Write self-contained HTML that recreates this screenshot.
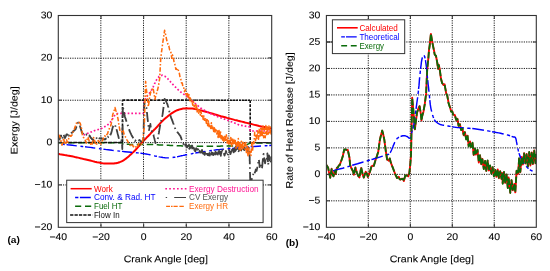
<!DOCTYPE html>
<html lang="en"><head><meta charset="utf-8"><title>Exergy and heat release vs crank angle</title>
<style>html,body{margin:0;padding:0;background:#fff}svg{display:block}</style></head>
<body>
<svg width="550" height="271" viewBox="0 0 550 271">
<defs>
<clipPath id="cl"><rect x="58.3" y="15.5" width="213.39999999999998" height="211.8"/></clipPath>
<clipPath id="cr"><rect x="326.4" y="15.5" width="209.89999999999998" height="211.8"/></clipPath>
</defs>
<rect width="550" height="271" fill="#fff"/>
<g id="left">
<line x1="100.83" y1="15.5" x2="100.83" y2="227.3" stroke="#111" stroke-width="1" stroke-dasharray="1.15 1.2"/>
<line x1="143.51" y1="15.5" x2="143.51" y2="227.3" stroke="#111" stroke-width="1" stroke-dasharray="1.15 1.2"/>
<line x1="186.19" y1="15.5" x2="186.19" y2="227.3" stroke="#111" stroke-width="1" stroke-dasharray="1.15 1.2"/>
<line x1="228.87" y1="15.5" x2="228.87" y2="227.3" stroke="#111" stroke-width="1" stroke-dasharray="1.15 1.2"/>
<line x1="58.3" y1="184.94" x2="271.7" y2="184.94" stroke="#111" stroke-width="1" stroke-dasharray="1.15 1.2"/>
<line x1="58.3" y1="142.58" x2="271.7" y2="142.58" stroke="#111" stroke-width="1" stroke-dasharray="1.15 1.2"/>
<line x1="58.3" y1="100.22" x2="271.7" y2="100.22" stroke="#111" stroke-width="1" stroke-dasharray="1.15 1.2"/>
<line x1="58.3" y1="58.21" x2="271.7" y2="58.21" stroke="#111" stroke-width="1" stroke-dasharray="1.15 1.2"/>
<g clip-path="url(#cl)" fill="none" stroke-linejoin="round">
<path d="M58.0,154.0 58.9,154.1 60.0,154.3 61.4,154.5 63.0,154.7 64.5,155.0 66.0,155.2 67.4,155.5 68.8,155.7 70.2,156.0 71.7,156.3 73.3,156.6 75.0,157.0 76.9,157.4 79.0,157.9 81.2,158.4 83.5,159.0 85.8,159.5 88.0,160.0 90.2,160.5 92.5,161.1 94.8,161.7 97.0,162.2 99.1,162.6 101.0,163.0 102.6,163.3 104.1,163.4 105.4,163.5 106.6,163.6 107.8,163.6 109.0,163.6 110.2,163.6 111.5,163.6 112.7,163.5 113.9,163.5 115.0,163.3 116.0,163.2 117.0,163.0 117.9,162.8 118.7,162.5 119.5,162.2 120.3,161.9 121.0,161.6 121.7,161.3 122.2,161.0 122.8,160.8 123.3,160.5 123.8,160.1 124.3,159.8 124.8,159.4 125.3,159.1 125.8,158.7 126.3,158.3 126.9,157.9 127.4,157.4 128.0,156.9 128.6,156.4 129.2,155.9 129.8,155.3 130.4,154.8 131.0,154.2 131.6,153.7 132.2,153.1 132.8,152.6 133.5,152.0 134.1,151.4 134.7,150.8 135.3,150.2 135.9,149.5 136.5,148.8 137.2,148.1 137.8,147.4 138.4,146.7 139.0,146.0 139.6,145.3 140.2,144.5 140.9,143.8 141.5,143.1 142.1,142.4 142.7,141.7 143.3,141.1 143.9,140.4 144.6,139.8 145.2,139.1 145.8,138.5 146.4,137.9 147.0,137.2 147.7,136.6 148.3,136.0 148.9,135.3 149.5,134.7 150.1,134.1 150.7,133.4 151.3,132.7 152.0,132.1 152.6,131.4 153.2,130.8 153.8,130.2 154.4,129.5 155.1,128.9 155.7,128.3 156.3,127.6 156.9,127.0 157.5,126.3 158.1,125.7 158.7,125.0 159.3,124.3 159.9,123.6 160.5,123.0 161.1,122.4 161.6,121.8 162.2,121.3 162.7,120.7 163.3,120.1 164.0,119.5 164.7,118.8 165.6,118.1 166.4,117.4 167.3,116.7 168.1,116.0 169.0,115.3 169.8,114.7 170.7,114.0 171.5,113.4 172.4,112.8 173.2,112.3 174.0,111.8 174.8,111.4 175.6,111.0 176.3,110.6 177.1,110.3 177.9,110.0 178.7,109.7 179.6,109.4 180.4,109.2 181.4,109.0 182.3,108.8 183.2,108.6 184.0,108.5 184.8,108.4 185.5,108.4 186.2,108.3 187.0,108.3 187.7,108.4 188.6,108.4 189.5,108.4 190.5,108.5 191.5,108.5 192.5,108.6 193.7,108.8 195.0,109.0 196.4,109.3 198.0,109.7 199.7,110.1 201.4,110.5 203.2,111.0 205.0,111.5 206.9,112.0 208.9,112.6 210.9,113.2 212.9,113.8 215.0,114.4 217.0,115.0 219.0,115.6 221.0,116.2 223.1,116.7 225.1,117.3 227.1,117.9 229.0,118.4 230.9,118.9 232.8,119.4 234.6,119.9 236.4,120.3 238.2,120.8 240.0,121.2 241.7,121.6 243.4,122.0 245.0,122.5 246.6,122.9 248.3,123.3 250.0,123.7 251.8,124.1 253.6,124.6 255.4,125.1 257.3,125.5 259.2,126.0 261.0,126.4 263.0,126.8 265.1,127.3 267.2,127.8 269.1,128.2 270.8,128.5 272.0,128.8" stroke="#ff0000" stroke-width="2"/>
<path d="M58.0,143.8 59.3,143.9 61.0,144.1 63.1,144.3 65.3,144.5 67.7,144.8 70.0,145.0 72.3,145.3 74.8,145.6 77.3,145.9 79.9,146.2 82.5,146.5 85.0,146.8 87.6,147.1 90.2,147.4 92.8,147.8 95.4,148.1 97.8,148.4 100.0,148.7 101.9,148.9 103.5,149.2 105.0,149.4 106.5,149.6 108.1,149.8 110.0,150.0 112.2,150.3 114.5,150.5 117.0,150.8 119.5,151.1 122.2,151.4 125.0,151.7 128.0,152.0 131.2,152.3 134.5,152.6 137.8,152.9 140.9,153.3 143.6,153.6 146.0,154.0 148.1,154.4 150.0,154.8 151.7,155.2 153.4,155.6 155.0,156.0 156.6,156.3 158.0,156.6 159.3,156.9 160.6,157.1 161.8,157.3 163.0,157.5 164.1,157.6 165.1,157.8 166.1,157.9 167.0,157.9 168.0,157.9 169.0,157.9 170.1,157.8 171.4,157.7 172.6,157.5 173.9,157.3 175.0,157.2 176.0,157.0 176.8,156.9 177.5,156.7 178.1,156.6 178.7,156.4 179.3,156.3 180.0,156.1 180.8,155.9 181.6,155.7 182.4,155.6 183.3,155.4 184.1,155.2 185.0,155.0 185.8,154.8 186.6,154.7 187.4,154.5 188.2,154.3 189.2,154.1 190.4,153.9 191.8,153.7 193.3,153.4 195.0,153.1 196.8,152.8 198.7,152.5 200.7,152.2 202.8,151.9 205.0,151.5 207.4,151.1 209.8,150.8 212.2,150.4 214.5,150.1 216.7,149.8 218.8,149.6 221.0,149.4 223.2,149.2 225.6,149.0 228.4,148.7 231.5,148.4 235.0,148.1 238.7,147.8 242.5,147.4 246.3,147.1 250.0,146.8 253.9,146.5 258.1,146.2 262.4,145.9 266.3,145.7 269.6,145.5 272.0,145.3" stroke="#0000ff" stroke-width="1.4" stroke-dasharray="10.3 3.7 2.8 1.8" stroke-dashoffset="10"/>
<path d="M58.0,142.7 59.0,142.7 60.0,142.7 61.0,142.7 62.0,142.7 63.0,142.7 64.0,142.7 65.0,142.7 66.0,142.7 67.1,142.7 68.1,142.7 69.1,142.7 70.1,142.7 71.1,142.7 72.1,142.7 73.1,142.7 74.1,142.7 75.1,142.7 76.1,142.7 77.1,142.7 78.1,142.7 79.1,142.7 80.1,142.7 81.1,142.7 82.2,142.7 83.2,142.7 84.2,142.7 85.2,142.7 86.2,142.7 87.2,142.7 88.2,142.7 89.2,142.7 90.2,142.7 91.2,142.7 92.2,142.7 93.2,142.7 94.2,142.7 95.2,142.7 96.2,142.7 97.2,142.7 98.2,142.7 99.3,142.7 100.3,142.7 101.3,142.7 102.3,142.7 103.3,142.7 104.3,142.7 105.3,142.7 106.3,142.7 107.3,142.7 108.3,142.7 109.3,142.7 110.3,142.7 111.3,142.7 112.3,142.7 113.3,142.7 114.4,142.7 115.4,142.7 116.4,142.7 117.4,142.7 118.4,142.7 119.4,142.7 120.4,142.7 121.4,142.7 122.4,142.7 122.8,144.3 123.8,144.3 124.8,144.3 125.8,144.3 126.8,144.3 127.8,144.3 128.8,144.3 129.9,144.4 130.9,144.4 131.9,144.4 132.9,144.4 133.9,144.4 134.9,144.4 135.9,144.4 136.9,144.4 137.9,144.4 138.9,144.4 139.9,144.4 140.9,144.4 141.9,144.4 142.9,144.4 144.0,144.5 145.0,144.5 146.0,144.5 147.0,144.5 148.0,144.5 149.0,144.5 150.0,144.5 151.0,144.5 152.0,144.6 153.0,144.6 154.0,144.7 155.0,144.7 156.0,144.8 157.0,144.8 158.0,144.8 159.0,144.9 160.0,144.9 161.0,145.0 162.0,145.0 163.0,145.1 164.0,145.1 165.0,145.1 166.0,145.2 167.0,145.2 168.0,145.3 169.0,145.3 170.0,145.4 171.0,145.4 172.0,145.4 173.0,145.5 174.0,145.5 175.0,145.6 176.0,145.6 177.0,145.7 178.0,145.7 179.0,145.7 180.0,145.8 181.0,145.8 182.0,145.9 183.0,145.9 184.0,146.0 185.0,146.0 186.0,146.0 187.0,146.0 188.0,146.1 189.0,146.1 190.0,146.1 191.0,146.1 192.0,146.1 193.0,146.2 194.0,146.2 195.0,146.2 196.0,146.2 197.0,146.2 198.0,146.3 199.0,146.3 200.0,146.3 201.0,146.3 202.0,146.3 203.0,146.3 204.0,146.3 205.0,146.3 206.0,146.3 207.0,146.2 208.0,146.2 209.0,146.2 210.0,146.2 211.0,146.2 212.0,146.2 213.0,146.2 214.0,146.2 215.0,146.2 216.0,146.2 217.0,146.2 218.0,146.2 219.0,146.2 220.0,146.2 221.0,146.1 222.0,146.1 223.0,146.1 224.0,146.1 225.0,146.1 226.0,146.1 227.0,146.1 228.0,146.1 229.0,146.1 230.0,146.1 231.0,146.1 232.0,146.1 233.0,146.1 234.0,146.0 235.0,146.0 236.0,146.0 237.0,146.0 238.0,146.0 239.0,146.0 240.0,146.0 241.0,145.8 242.0,145.7 243.0,145.5 244.0,145.3 245.0,145.2 246.0,145.0 247.0,144.6 248.0,144.1 249.0,143.6 250.0,143.2 251.5,142.9 252.5,142.9 253.6,142.9 254.6,142.9 255.6,142.9 256.6,142.9 257.6,142.9 258.7,142.9 259.7,142.9 260.7,142.9 261.8,142.9 262.8,142.9 263.8,142.9 264.8,142.9 265.9,142.9 266.9,142.9 267.9,142.9 268.9,142.9 269.9,142.9 271.0,142.9 272.0,142.9" stroke="#0a6b0a" stroke-width="1.5" stroke-dasharray="6.5 3.5"/>
<path d="M58.3,142.6H122.5" stroke="#111" stroke-width="1.5" stroke-dasharray="3.9 1.1"/>
<path d="M122.5,100.2H187" stroke="#111" stroke-width="1.7" stroke-dasharray="2.7 1.2"/>
<path d="M187,100.2H218" stroke="#111" stroke-width="1.25" stroke-dasharray="5 0.8"/>
<path d="M218,100.2H250.2" stroke="#111" stroke-width="1.5" stroke-dasharray="2 1"/>
<path d="M250.2,142.6H272" stroke="#222" stroke-width="1.2" stroke-dasharray="6 0.6"/>
<path d="M122.5,142.6V100.2M250.2,100.2V142.6" stroke="#111" stroke-width="1.6" stroke-dasharray="2.8 1.3"/>
<path d="M83.5,135.0 84.6,134.6 85.7,134.1 86.8,133.7 87.9,133.3 89.0,132.9 90.1,132.5 91.1,132.0 92.2,131.6 93.3,131.2 94.3,130.7 95.4,130.3 96.5,130.0 97.5,129.7 98.6,129.4 99.7,129.0 100.8,128.7 101.9,128.3 102.8,127.8 103.7,127.3 104.6,126.8 105.5,126.3 106.4,125.8 107.3,125.1 108.1,124.5 109.0,123.8 109.7,123.0 110.3,122.2 110.9,121.4 111.6,120.6 112.2,119.6 112.7,118.7 113.3,117.7 113.8,116.8 114.4,115.8 115.3,115.1 116.1,114.3 117.0,113.6 118.0,113.5 119.0,113.4 120.0,113.3 121.0,113.3 122.0,113.3 123.0,113.3 124.0,113.3 125.0,113.3 126.1,113.3 127.1,113.3 128.1,113.3 129.1,113.3 130.1,113.3 131.2,113.3 132.2,113.3 133.2,113.3 134.2,113.3 135.2,113.3 136.3,113.3 137.3,113.3 138.3,113.3 139.3,113.3 140.3,113.3 141.4,113.3 142.4,113.3 143.4,113.3 143.5,112.3 143.5,111.2 143.6,110.2 143.6,109.2 143.7,108.2 143.7,107.2 143.8,106.1 143.8,105.1 143.8,104.1 143.9,103.0 143.9,102.0 144.0,101.0 144.6,100.1 145.2,99.2 145.8,98.3 146.4,97.4 147.0,96.5 147.6,95.6 148.2,94.7 148.9,93.8 149.5,93.0 150.1,92.1 150.8,91.2 151.4,90.3 152.0,89.4 152.4,88.5 152.8,87.5 153.3,86.6 153.7,85.7 154.1,84.7 154.5,83.8 155.0,82.9 155.4,81.9 155.8,81.0 156.4,80.1 157.1,79.2 157.7,78.3 158.4,77.4 159.0,76.5 160.1,76.1 161.2,75.6 162.3,75.2 163.7,75.8 165.0,76.3 165.8,77.0 166.7,77.7 167.5,78.4 168.2,79.2 169.0,80.1 169.7,80.9 170.4,81.7 171.1,82.5 171.9,83.4 172.6,84.2 173.3,84.9 174.1,85.7 174.8,86.4 175.5,87.1 176.2,87.8 176.9,88.5 177.7,89.3 178.4,90.0 179.2,90.7 180.0,91.3 180.7,92.0 181.5,92.6 182.3,93.3 183.3,93.9 184.2,94.5 185.2,95.2 186.2,95.8 187.0,96.5 187.7,97.1 188.5,97.8 189.2,98.4 190.0,99.1 190.7,99.7 191.5,100.4 192.2,101.0 193.0,101.7 193.8,102.4 194.7,103.1 195.5,103.8 196.3,104.5 197.2,105.1 198.0,105.8 198.8,106.5 199.7,107.2 200.5,107.9 201.4,108.4 202.2,109.0 203.1,109.5 204.0,110.0 204.8,110.6 205.7,111.1 206.7,111.6 207.7,112.1 208.8,112.7 209.8,113.2 210.8,113.7 211.8,114.1 212.8,114.5 213.7,114.9 214.7,115.3 215.7,115.8 216.7,116.2 217.6,116.6 218.6,117.0 219.6,117.4 220.7,117.8 221.7,118.1 222.8,118.5 223.8,118.9 224.8,119.3 225.9,119.7 226.9,120.0 228.0,120.4 229.0,120.8 230.0,121.2 231.0,121.6 232.1,122.0 233.1,122.4 234.1,122.8 235.1,123.2 236.2,123.7 237.2,124.1 238.3,124.6 239.3,125.0 240.3,125.2 241.3,125.4 242.4,125.6 243.4,125.8 244.4,126.0 245.4,126.2 246.5,126.4 247.5,126.5 248.6,126.7 249.6,126.9 249.8,127.9 249.9,128.9 250.0,130.0 250.2,131.0 251.3,131.0 252.4,131.0 253.5,131.0 254.6,131.0 255.6,131.0 256.7,131.0 257.8,131.0 258.9,131.0 260.0,131.0 261.0,131.0 262.0,131.0 263.0,131.0 264.0,131.0 265.0,131.0 266.0,131.0 267.0,131.0 268.0,131.0 269.0,131.0 270.0,131.0 271.0,131.0 272.0,131.0" stroke="#ff1493" stroke-width="1.7" stroke-dasharray="1.7 2.0"/>
<path d="M58.0,136.0 58.2,136.4 58.4,136.9 58.6,137.3 58.8,137.8 58.9,138.2 59.1,138.6 59.3,139.1 59.5,139.5 59.7,139.1 59.8,138.6 60.0,138.2 60.2,137.7 60.3,137.3 60.5,136.8 60.7,136.4 60.8,135.9 61.0,135.5 61.1,135.9 61.3,136.4 61.4,136.8 61.6,137.3 61.7,137.7 61.9,138.2 62.0,138.6 62.2,139.1 62.3,139.5 62.4,139.0 62.5,138.6 62.6,138.1 62.7,137.7 62.8,137.2 63.0,136.8 63.1,136.3 63.2,135.9 63.3,135.4 63.4,135.0 63.5,134.5 63.7,134.9 63.9,135.4 64.1,135.8 64.2,136.2 64.4,136.7 64.6,137.1 64.8,137.6 65.0,138.0 65.2,137.6 65.4,137.1 65.6,136.7 65.8,136.2 65.9,135.8 66.1,135.4 66.3,134.9 66.5,134.4 66.9,135.3 67.2,134.4 67.6,134.7 68.0,136.5 68.3,135.2 68.6,135.6 68.9,135.3 69.3,135.4 69.7,134.0 70.1,133.6 70.5,134.1 70.8,133.7 71.2,133.1 71.6,133.0 72.0,132.4 72.4,132.5 72.8,131.5 73.1,131.6 73.5,131.5 73.9,130.6 74.3,130.6 74.6,130.1 75.0,129.9 75.4,129.2 75.6,129.2 75.7,128.8 75.9,128.3 76.0,127.9 76.2,127.5 76.3,127.0 76.5,126.6 76.7,126.2 76.8,125.8 77.0,125.3 77.1,124.9 77.3,124.9 77.5,124.1 77.8,123.7 78.0,122.7 78.3,122.8 78.5,122.7 78.7,123.3 78.9,123.7 79.1,124.2 79.3,124.7 79.5,125.1 79.7,125.2 79.9,125.8 80.0,126.3 80.2,126.7 80.3,127.2 80.4,127.6 80.6,128.1 80.7,128.5 80.8,129.0 81.0,129.5 81.1,129.9 81.3,130.4 81.4,130.8 81.5,131.3 81.7,131.7 81.8,132.5 82.1,132.6 82.4,133.4 82.7,133.2 82.9,133.5 83.2,134.1 83.5,134.9 83.8,135.0 84.2,134.7 84.7,134.5 85.1,134.5 85.6,134.2 86.0,134.2 86.5,134.7 87.0,134.8 87.5,134.8 87.9,134.2 88.4,134.7 88.9,134.7 89.2,135.6 89.4,135.4 89.7,136.4 90.0,136.0 90.2,136.6 90.5,137.5 90.7,137.5 91.0,138.2 91.3,138.2 91.6,138.2 91.9,139.1 92.2,139.2 92.6,139.6 92.9,139.5 93.2,139.9 93.5,141.0 93.8,140.7 94.2,140.4 94.5,139.5 94.8,138.8 95.2,139.2 95.7,139.1 96.1,138.8 96.5,138.1 97.0,138.4 97.5,139.1 98.1,138.7 98.6,139.6 99.0,139.5 99.4,138.5 99.8,138.1 100.2,138.7 100.6,138.3 101.1,138.2 101.6,138.4 102.0,139.0 102.5,138.7 103.0,138.6 103.5,139.2 103.9,138.9 104.3,139.3 104.8,139.6 105.2,139.1 105.7,139.0 106.0,138.5 106.4,139.0 106.7,137.9 107.0,138.5 107.4,137.9 107.7,137.8 108.0,137.4 108.3,136.4 108.7,136.1 109.0,136.5 109.3,135.5 109.6,135.7 109.9,134.8 110.3,134.6 110.6,134.6 110.9,133.8 111.0,133.6 111.2,133.2 111.3,132.7 111.4,132.2 111.5,131.8 111.7,131.3 111.8,130.9 111.9,130.4 112.0,129.9 112.2,129.5 112.3,129.0 112.4,128.6 112.5,128.1 112.7,127.7 112.8,127.2 112.9,126.8 113.0,126.3 113.1,125.8 113.3,125.4 113.4,125.0 113.5,124.8 113.9,125.1 114.4,125.0 114.8,124.8 115.1,125.8 115.4,126.0 115.7,127.0 116.0,126.7 116.1,127.5 116.2,127.9 116.3,128.4 116.5,128.8 116.6,129.3 116.7,129.8 116.8,130.2 116.9,130.7 117.0,131.2 117.2,131.6 117.3,132.1 117.4,132.5 117.5,133.0 117.6,133.4 117.7,133.9 117.8,134.3 118.0,134.8 118.1,135.2 118.2,135.6 118.3,136.1 118.4,136.5 118.5,136.9 118.6,137.4 118.7,137.8 118.8,138.2 119.0,138.7 119.1,139.1 119.2,139.6 119.3,139.9 119.7,140.1 120.2,140.8 120.6,140.8 121.0,140.5 121.3,141.5 121.7,141.7 122.0,142.0 122.0,142.5 122.0,142.9 122.1,143.4 122.1,143.9 122.1,144.3 122.1,144.8 122.1,145.3 122.2,145.7 122.2,146.2 122.2,146.7 122.2,147.1 122.2,147.6 122.3,148.1 122.3,148.5 122.3,149.0 122.3,148.5 122.3,148.1 122.3,147.6 122.3,147.2 122.3,146.7 122.3,146.3 122.3,145.8 122.3,145.4 122.3,144.9 122.4,144.5 122.4,144.0 122.4,143.6 122.4,143.1 122.4,142.7 122.4,142.2 122.4,141.8 122.4,141.3 122.4,140.9 122.4,140.4 122.4,139.9 122.4,139.5 122.4,139.0 122.4,138.6 122.4,138.1 122.4,137.7 122.4,137.2 122.4,136.8 122.4,136.3 122.5,135.9 122.5,135.4 122.5,135.0 122.5,134.5 122.5,134.1 122.5,133.6 122.5,133.2 122.5,132.7 122.5,132.3 122.5,131.8 122.5,131.3 122.5,130.9 122.5,130.4 122.5,130.0 122.5,129.5 122.5,129.1 122.5,128.6 122.5,128.2 122.5,127.7 122.6,127.3 122.6,126.8 122.6,126.4 122.6,125.9 122.6,125.5 122.6,125.0 122.6,124.6 122.6,124.1 122.6,123.7 122.6,123.2 122.6,122.7 122.6,122.3 122.6,121.8 122.6,121.4 122.6,120.9 122.6,120.5 122.6,120.0 122.6,119.6 122.6,119.1 122.7,118.7 122.7,118.2 122.7,117.8 122.7,117.3 122.7,116.9 122.7,116.4 122.7,116.0 122.7,115.5 122.7,115.1 122.7,114.6 122.7,114.1 122.7,113.7 122.7,113.2 122.7,112.8 122.7,112.3 122.7,111.9 122.7,111.4 122.7,111.0 122.7,110.5 122.8,110.1 122.8,109.6 122.8,109.2 122.8,108.7 122.8,108.3 122.8,107.8 122.8,107.4 122.8,106.9 122.8,106.5 122.8,106.0 122.9,106.4 123.0,106.9 123.0,107.3 123.1,107.8 123.2,108.2 123.3,108.7 123.3,109.1 123.4,109.6 123.5,110.0 123.6,110.5 123.7,110.9 123.8,111.4 123.9,111.9 124.0,112.3 124.1,112.8 124.2,113.3 124.3,113.7 124.4,114.2 124.5,114.7 124.6,115.1 124.7,115.6 124.8,116.1 124.9,116.5 125.0,117.0 125.1,117.4 125.3,117.9 125.4,118.3 125.6,118.7 125.7,119.1 125.9,119.6 126.0,120.0 126.1,120.4 126.3,120.9 126.4,121.3 126.6,121.7 126.7,122.1 126.9,122.6 127.0,123.0 127.1,123.4 127.3,123.9 127.4,124.3 127.6,124.8 127.7,125.2 127.9,125.7 128.0,126.1 128.2,126.6 128.3,127.0 128.4,127.4 128.6,127.9 128.7,128.3 128.9,128.8 129.0,129.2 129.2,129.7 129.3,130.1 129.5,130.6 129.6,131.0 129.8,131.4 130.0,131.8 130.2,132.2 130.4,132.7 130.6,133.1 130.8,133.5 131.0,133.9 131.2,134.3 131.4,134.8 131.6,135.2 131.8,135.6 132.0,136.0 132.2,136.4 132.5,136.8 132.8,137.2 133.0,137.7 133.2,138.1 133.5,138.5 133.8,138.9 134.0,139.3 134.2,139.8 134.5,140.2 134.8,140.6 135.0,141.0 135.4,140.6 135.8,140.2 136.1,139.9 136.5,139.5 136.9,139.9 137.2,140.2 137.6,140.6 138.0,141.0 138.4,140.8 138.8,140.5 139.1,140.2 139.5,140.0 139.9,140.4 140.2,140.8 140.6,141.1 141.0,141.5 141.5,141.4 142.0,141.3 142.4,141.2 142.9,141.1 143.4,141.0 143.4,140.5 143.4,140.1 143.4,139.6 143.4,139.2 143.4,138.7 143.5,138.3 143.5,137.8 143.5,137.4 143.5,136.9 143.5,136.5 143.5,136.0 143.5,135.6 143.5,135.1 143.5,134.7 143.5,134.2 143.6,133.8 143.6,133.3 143.6,132.9 143.6,132.4 143.6,132.0 143.6,131.5 143.6,131.0 143.6,130.6 143.6,130.1 143.6,129.7 143.6,129.2 143.7,128.8 143.7,128.3 143.7,127.9 143.7,127.4 143.7,127.0 143.7,126.5 143.7,126.1 143.7,125.6 143.7,125.2 143.7,124.7 143.8,124.3 143.8,123.8 143.8,123.4 143.8,122.9 143.8,122.5 143.8,122.0 143.8,121.5 143.8,121.1 143.8,120.6 143.8,120.2 143.8,119.7 143.9,119.3 143.9,118.8 143.9,118.4 143.9,117.9 143.9,117.5 143.9,117.0 143.9,116.6 143.9,116.1 143.9,115.7 143.9,115.2 144.0,114.8 144.0,114.3 144.0,113.9 144.0,113.4 144.0,113.0 144.0,112.5 144.0,112.0 144.0,111.6 144.0,111.1 144.0,110.7 144.0,110.2 144.1,109.8 144.1,109.3 144.1,108.9 144.1,108.4 144.1,108.0 144.1,107.5 144.1,107.1 144.1,106.6 144.1,106.2 144.1,105.7 144.2,105.3 144.2,104.8 144.2,104.4 144.2,103.9 144.2,103.5 144.2,103.0 144.4,103.4 144.6,103.8 144.8,104.2 145.0,104.7 145.2,105.1 145.3,105.5 145.5,105.9 145.7,106.3 145.9,106.8 146.1,107.2 146.3,107.6 146.5,108.0 146.5,108.5 146.6,108.9 146.6,109.4 146.7,109.8 146.7,110.3 146.8,110.7 146.8,111.2 146.9,111.7 146.9,112.1 147.0,112.6 147.0,113.0 147.1,113.5 147.1,113.9 147.2,114.4 147.2,114.9 147.2,115.3 147.3,115.8 147.3,116.2 147.4,116.7 147.4,117.1 147.5,117.6 147.5,118.1 147.6,118.5 147.6,119.0 147.7,119.4 147.7,119.9 147.8,120.3 147.8,120.8 147.9,121.3 147.9,121.7 148.0,122.2 148.0,122.6 148.1,123.1 148.2,123.6 148.2,124.0 148.3,124.5 148.3,124.9 148.4,125.4 148.5,125.9 148.5,126.3 148.6,126.8 148.6,127.2 148.7,127.7 148.8,128.2 148.8,128.6 148.9,129.1 148.9,129.5 149.0,130.0 149.1,129.5 149.2,129.1 149.3,128.6 149.4,128.2 149.5,127.7 149.6,127.2 149.8,126.8 149.9,126.3 150.0,125.8 150.1,125.4 150.2,124.9 150.3,124.5 150.4,124.0 150.4,124.5 150.5,124.9 150.5,125.4 150.6,125.8 150.6,126.3 150.7,126.8 150.7,127.2 150.8,127.7 150.8,128.2 150.9,128.6 150.9,129.1 151.0,129.5 151.0,130.0 151.2,130.4 151.5,130.8 151.8,131.1 152.0,131.5 152.2,131.9 152.5,132.2 152.8,132.6 153.0,133.0 153.1,133.5 153.2,133.9 153.3,134.4 153.5,134.8 153.6,135.3 153.7,135.7 153.8,136.2 153.9,136.6 154.0,137.1 154.1,137.5 154.2,138.0 154.4,138.5 154.5,138.9 154.6,139.4 154.7,139.8 154.8,140.3 154.9,140.7 155.0,141.2 155.2,141.6 155.3,142.1 155.4,142.5 155.5,143.0 155.7,142.6 155.9,142.2 156.1,141.8 156.3,141.3 156.5,140.9 156.8,140.5 157.0,140.1 157.2,139.7 157.4,139.2 157.6,138.8 157.8,138.4 158.0,138.0 158.1,137.6 158.1,137.1 158.2,136.7 158.3,136.2 158.4,135.8 158.4,135.3 158.5,134.9 158.6,134.4 158.7,134.0 158.7,133.6 158.8,133.1 158.9,132.7 159.0,132.2 159.0,131.8 159.1,131.3 159.2,130.9 159.3,130.4 159.3,130.0 159.4,129.6 159.5,129.1 159.6,128.7 159.6,128.2 159.7,127.8 159.8,127.3 159.9,126.9 159.9,126.4 160.0,126.0 160.1,125.6 160.2,125.1 160.3,124.7 160.4,124.2 160.5,123.8 160.6,123.3 160.7,122.9 160.8,122.4 160.9,122.0 161.0,121.5 161.1,121.1 161.2,120.6 161.3,120.2 161.4,119.8 161.5,119.3 161.6,118.9 161.7,118.4 161.8,118.0 161.9,117.5 162.0,117.1 162.1,116.6 162.2,116.2 162.3,115.7 162.4,115.3 162.5,114.8 162.6,114.4 162.7,113.9 162.7,113.5 162.8,113.0 162.8,112.6 162.9,112.1 163.0,111.7 163.0,111.2 163.1,110.8 163.1,110.3 163.2,109.8 163.2,109.4 163.3,108.9 163.4,108.5 163.4,108.0 163.5,107.6 163.5,107.1 163.6,106.7 163.7,106.2 163.7,105.7 163.8,105.3 163.8,104.8 163.9,104.4 164.0,103.9 164.0,103.5 164.1,103.0 164.1,102.5 164.2,102.1 164.2,101.6 164.3,101.2 164.4,100.7 164.4,100.3 164.5,99.8 164.5,99.4 164.6,98.9 164.9,99.3 165.2,99.7 165.4,100.2 165.7,100.6 166.0,101.0 166.2,101.4 166.4,101.9 166.5,102.3 166.7,102.7 166.9,103.2 167.1,103.6 167.3,104.0 167.4,104.4 167.6,104.9 167.8,105.3 167.9,105.8 168.0,106.2 168.1,106.7 168.3,107.1 168.4,107.6 168.5,108.0 168.6,108.5 168.7,108.9 168.8,109.4 168.9,109.8 169.0,110.3 169.2,110.7 169.3,111.2 169.4,111.6 169.5,112.1 169.6,112.5 169.7,113.0 169.8,113.4 169.9,113.9 170.1,114.3 170.2,114.8 170.3,115.2 170.4,115.7 170.6,116.1 170.7,116.6 170.9,117.0 171.1,117.4 171.2,117.8 171.4,118.3 171.5,118.7 171.7,119.1 171.9,119.6 172.0,120.0 172.2,120.4 172.4,120.8 172.5,121.3 172.7,121.7 172.8,122.1 173.0,122.6 173.2,123.0 173.3,123.4 173.5,123.9 173.7,124.3 173.8,124.7 174.0,125.1 174.1,125.6 174.3,126.0 174.5,126.5 174.6,126.9 174.8,127.3 174.9,127.8 175.1,128.2 175.2,128.7 175.3,129.2 175.5,129.6 175.8,130.0 176.1,130.4 176.4,130.7 176.7,131.1 176.9,131.5 177.2,131.9 177.5,132.2 177.8,132.6 178.1,133.0 178.4,133.4 178.7,133.7 179.0,134.1 179.2,134.5 179.5,134.9 179.8,135.2 180.1,135.7 180.4,135.9 180.6,136.4 180.7,136.9 180.9,137.3 181.1,137.8 181.2,138.2 181.4,138.7 181.6,139.1 181.7,139.5 181.9,140.0 182.1,140.4 182.3,140.9 182.4,141.3 182.6,141.7 182.8,142.2 182.9,142.6 183.1,143.1 183.3,143.5 183.4,144.0 183.6,144.2 184.1,142.8 184.5,142.4 185.0,143.5 185.2,143.6 185.4,145.9 185.6,144.4 185.8,144.2 186.0,144.5 186.5,145.4 187.0,147.4 187.5,146.8 188.0,145.1 188.2,145.5 188.5,146.2 188.8,147.1 189.0,144.7 189.2,148.6 189.5,148.8 189.8,147.5 190.0,147.3 190.5,147.9 191.0,147.5 191.5,146.5 192.0,145.5 192.3,148.3 192.6,149.3 192.9,148.7 193.2,147.5 193.5,148.5 193.8,147.8 194.1,151.2 194.4,148.8 194.7,149.5 195.0,151.1 195.4,151.2 195.8,149.7 196.2,148.1 196.6,148.9 197.0,150.3 197.3,148.4 197.6,149.3 197.9,149.1 198.2,149.9 198.5,150.1 198.8,151.0 199.1,152.8 199.4,153.1 199.7,150.8 200.0,151.4 200.4,151.5 200.8,152.7 201.2,152.6 201.6,152.3 202.0,149.8 202.2,150.2 202.5,153.8 202.8,152.5 203.0,153.6 203.2,151.6 203.5,153.8 203.8,152.8 204.0,153.9 204.3,153.4 204.7,154.9 205.0,152.4 205.3,153.7 205.7,151.5 206.0,152.4 206.4,153.8 206.8,151.4 207.2,152.5 207.6,155.1 207.9,154.8 208.3,155.3 208.7,154.4 209.1,153.7 209.5,153.0 209.8,155.7 210.0,152.0 210.2,155.1 210.5,154.7 210.8,154.4 211.0,153.2 211.3,153.1 211.6,152.3 211.9,154.6 212.1,154.0 212.4,154.1 212.7,152.8 213.0,153.1 213.3,155.2 213.6,152.4 213.9,154.5 214.1,152.9 214.4,151.2 214.7,152.7 215.0,153.3 215.2,154.5 215.5,151.6 215.8,152.7 216.0,153.4 216.2,153.8 216.5,153.1 216.8,153.9 217.0,153.2 217.2,154.9 217.5,156.3 217.8,152.0 218.0,154.2 218.2,152.9 218.5,151.6 218.8,151.2 219.0,153.6 219.2,150.1 219.5,152.6 219.8,152.8 220.0,155.0 220.2,152.1 220.5,151.7 220.8,155.8 221.0,153.7 221.2,153.7 221.4,151.9 221.7,151.9 221.9,151.5 222.1,153.1 222.3,150.2 222.6,150.0 222.8,150.5 223.0,150.5 223.1,151.0 223.3,151.4 223.4,151.9 223.5,152.3 223.7,152.8 223.8,153.2 224.0,153.7 224.1,154.1 224.2,154.6 224.4,155.0 224.5,155.5 224.7,155.1 224.8,154.6 224.9,154.2 225.1,153.7 225.2,153.2 225.4,152.8 225.6,152.3 225.7,151.9 225.8,151.4 226.0,151.0 226.1,151.5 226.3,151.9 226.4,152.4 226.5,152.8 226.7,153.3 226.8,153.7 227.0,154.2 227.1,154.6 227.2,155.1 227.4,155.5 227.5,156.0 227.6,155.5 227.7,155.1 227.8,154.6 228.0,154.2 228.1,153.7 228.2,153.2 228.3,152.8 228.4,152.3 228.5,151.8 228.7,151.4 228.8,150.9 228.9,150.5 229.0,150.0 229.2,150.4 229.3,150.9 229.5,151.3 229.7,151.8 229.8,152.2 230.0,152.7 230.2,153.1 230.3,153.6 230.5,154.0 230.6,153.5 230.8,153.1 230.9,152.6 231.0,152.2 231.2,151.7 231.3,151.3 231.5,150.8 231.6,150.4 231.7,149.9 231.9,149.5 232.0,148.5 232.3,147.3 232.6,147.9 232.9,150.5 233.1,148.3 233.4,152.0 233.7,152.3 234.0,149.2 234.2,151.7 234.5,149.7 234.8,149.2 235.0,151.4 235.2,147.3 235.5,148.5 235.8,150.5 236.0,146.1 236.3,148.8 236.7,147.5 237.0,147.7 237.3,148.6 237.7,150.7 238.0,149.6 238.3,150.6 238.6,151.2 238.9,150.9 239.1,148.7 239.4,147.1 239.7,148.5 240.0,145.6 240.4,147.1 240.8,147.2 241.2,150.5 241.6,149.0 242.0,148.5 242.4,147.7 242.8,148.5 243.2,148.2 243.6,149.5 244.0,147.5 244.4,150.1 244.8,146.0 245.2,148.9 245.6,148.3 246.0,148.1 246.5,148.8 247.0,151.1 247.5,148.1 248.0,150.6 248.2,149.1 248.5,148.8 248.8,147.7 249.0,148.2 249.2,152.0 249.5,151.0 249.5,151.5 249.5,151.9 249.5,152.4 249.5,152.8 249.6,153.3 249.6,153.7 249.6,154.2 249.6,154.6 249.6,155.1 249.6,155.5 249.6,156.0 249.6,156.4 249.6,156.9 249.7,157.3 249.7,157.8 249.7,158.2 249.7,158.7 249.7,159.1 249.7,159.6 249.7,160.0 249.7,160.5 249.7,160.9 249.8,161.4 249.8,161.8 249.8,162.3 249.8,162.7 249.8,163.2 249.8,163.6 249.8,164.1 249.8,164.5 249.8,165.0 249.9,165.4 249.9,165.9 249.9,166.3 249.9,166.8 249.9,167.2 249.9,167.7 249.9,168.1 249.9,168.6 249.9,169.0 249.9,169.5 250.0,170.0 250.0,170.4 250.0,170.9 250.0,171.3 250.0,171.8 250.0,172.2 250.0,172.7 250.0,173.1 250.0,173.6 250.1,174.0 250.1,174.5 250.1,174.9 250.1,175.4 250.1,175.8 250.1,176.3 250.1,176.7 250.1,177.2 250.1,177.6 250.2,178.1 250.2,178.5 250.2,179.0 250.2,179.4 250.2,179.9 250.2,180.3 250.2,180.8 250.2,181.2 250.2,181.7 250.3,182.1 250.3,182.6 250.3,183.0 250.3,183.5 250.3,183.9 250.3,184.4 250.3,184.8 250.3,185.3 250.3,185.7 250.4,186.2 250.4,186.6 250.4,187.1 250.4,187.5" stroke="#404040" stroke-width="1.8" stroke-dasharray="10 3.2 1.5 3.2"/>
<path d="M250.4,187.5V188" stroke="#404040" stroke-width="1.6"/>
<path d="M250.4,188.0 250.5,187.5 250.5,187.1 250.6,186.6 250.6,186.1 250.7,185.7 250.7,185.2 250.8,184.7 250.8,184.3 250.9,183.8 250.9,183.3 251.0,182.9 251.0,182.4 251.1,181.9 251.1,181.5 251.2,181.0 251.3,180.6 251.5,180.1 251.6,179.7 251.8,179.2 251.9,178.8 252.0,178.3 252.2,177.9 252.3,177.4 252.5,177.0 252.6,176.5 252.7,176.0 252.9,175.6 253.0,175.1 253.1,174.7 253.2,174.2 253.4,173.8 253.5,173.3 253.8,173.7 254.0,173.8 254.3,174.5 254.4,174.0 254.6,173.6 254.7,173.1 254.8,172.7 255.0,172.2 255.1,171.8 255.3,171.3 255.4,170.9 255.5,170.4 255.7,170.0 255.8,169.4 256.1,169.7 256.3,170.5 256.6,170.8 256.7,170.3 256.8,169.9 256.9,169.4 257.0,168.9 257.1,168.5 257.2,168.0 257.3,167.5 257.4,167.1 257.4,166.6 257.5,166.1 257.6,165.6 257.7,165.2 257.8,164.7 257.9,164.2 258.0,163.8 258.1,163.3 258.2,162.8 258.3,162.3 258.4,161.8 258.5,161.4 258.6,160.9 258.7,160.4 258.8,159.9 258.9,159.4 258.9,159.9 259.0,160.3 259.0,160.8 259.1,161.2 259.1,161.7 259.2,162.1 259.2,162.6 259.3,163.0 259.3,163.5 259.4,163.9 259.4,164.4 259.5,164.8 259.5,165.3 259.6,165.7 259.6,166.2 259.7,166.6 259.7,167.1 259.8,166.6 259.9,166.2 260.1,165.7 260.2,165.3 260.3,164.8 260.4,164.4 260.6,163.9 260.7,163.5 260.8,163.0 260.9,163.5 261.0,163.9 261.1,164.4 261.2,164.9 261.3,165.4 261.4,165.8 261.5,166.3 261.6,166.8 261.7,167.3 261.8,167.8 261.9,168.2 262.0,168.7 262.0,168.2 262.1,167.8 262.1,167.3 262.2,166.9 262.2,166.4 262.3,166.0 262.3,165.5 262.3,165.0 262.4,164.6 262.4,164.1 262.5,163.7 262.5,163.2 262.5,162.7 262.6,162.3 262.6,161.8 262.7,161.4 262.7,160.9 262.8,160.5 262.8,160.0 262.9,159.5 262.9,159.1 263.0,158.6 263.0,158.2 263.1,157.7 263.2,157.2 263.2,156.8 263.3,156.3 263.4,155.8 263.4,155.4 263.5,154.9 263.5,154.5 263.6,154.0 263.7,154.5 263.7,154.9 263.8,155.4 263.8,155.9 263.9,156.3 263.9,156.8 264.0,157.2 264.1,157.7 264.1,158.2 264.2,158.6 264.2,159.1 264.3,159.6 264.3,160.0 264.4,160.5 264.5,161.0 264.6,161.4 264.8,161.9 264.9,162.4 265.0,162.8 265.1,163.3 265.2,162.9 265.2,162.4 265.3,162.0 265.3,161.5 265.4,161.1 265.4,160.6 265.5,160.2 265.6,159.7 265.6,159.2 265.7,158.8 265.7,158.3 265.8,157.9 265.8,157.4 265.9,157.0 266.2,157.7 266.4,157.9 266.7,158.6 266.8,158.1 266.8,157.7 266.9,157.2 267.0,156.7 267.0,156.3 267.1,155.8 267.1,155.4 267.2,154.9 267.3,154.4 267.3,154.0 267.4,153.5 267.4,154.0 267.5,154.4 267.5,154.9 267.5,155.3 267.6,155.8 267.6,156.2 267.6,156.7 267.7,157.1 267.7,157.6 267.7,158.0 267.8,158.5 267.8,158.9 267.8,159.4 267.8,159.8 267.9,160.3 267.9,160.7 267.9,161.2 268.0,161.6 268.0,162.1 268.0,162.5 268.1,163.0 268.1,163.4 268.1,163.9 268.2,164.3 268.2,164.8 268.2,164.3 268.3,163.9 268.3,163.4 268.4,162.9 268.4,162.5 268.4,162.0 268.5,161.5 268.5,161.1 268.6,160.6 268.6,160.2 268.6,159.7 268.7,159.2 268.7,158.8 268.8,158.3 268.8,157.8 268.8,157.4 268.9,156.9 268.9,156.4 269.0,156.0 269.0,155.5 269.1,155.9 269.2,156.4 269.2,156.8 269.3,157.3 269.4,157.8 269.5,158.2 269.6,158.7 269.6,159.1 269.7,159.6 269.8,160.0 269.9,160.5 270.0,160.9 270.1,161.4 270.2,161.9 270.3,162.4 270.4,162.8 270.5,163.3 270.6,162.9 270.6,162.4 270.7,162.0 270.7,161.5 270.8,161.1 270.8,160.6 270.9,160.2 271.0,159.7 271.0,159.2 271.1,158.8 271.1,158.3 271.2,157.9 271.2,157.4 271.3,157.0 271.4,157.4 271.5,157.9 271.5,158.3 271.6,158.8 271.7,159.2 271.8,159.7 271.8,160.1 271.9,160.6 272.0,161.0" stroke="#404040" stroke-width="1.8" stroke-dasharray="10 3.2 1.5 3.2"/>
<path d="M58.3,135.1 59.0,135.0 60.0,137.1 60.5,138.3 61.3,143.0 62.1,145.1 62.8,142.6 63.6,138.1 64.5,142.9 65.0,142.8 65.6,144.1 66.6,139.9 67.3,142.2 67.7,142.3 68.0,141.8 68.9,137.5 69.5,137.3 70.3,135.6 71.0,136.3 72.0,135.0 72.5,134.3 73.2,131.4 74.1,130.3 74.7,127.9 75.6,125.6 76.4,123.1 77.0,123.4 77.7,122.6 78.4,122.9 79.2,122.4 80.1,123.1 80.7,125.0 81.8,129.4 82.4,135.0 82.9,136.4 83.9,138.1 84.4,139.4 85.4,140.5 86.3,142.9 86.7,140.9 87.7,137.1 88.2,137.8 89.2,141.1 89.7,141.6 90.7,144.1 91.2,143.9 91.8,145.1 92.7,141.4 93.7,137.5 94.2,138.6 95.2,142.9 95.6,143.5 96.3,145.1 97.1,142.8 98.2,140.5 98.6,140.6 99.7,142.2 100.3,144.7 100.9,144.2 101.6,141.7 102.7,140.2 103.1,138.6 104.2,136.2 104.6,135.7 105.4,136.3 106.1,135.4 106.5,135.7 106.8,134.6 107.6,133.7 108.3,130.9 108.9,129.9 109.8,127.1 110.6,126.3 111.0,124.8 111.3,123.4 112.1,118.3 112.7,114.8 113.6,111.9 114.3,110.0 115.0,107.6 115.8,110.5 116.6,112.3 117.2,114.8 118.1,119.3 118.9,125.0 119.5,128.1 120.0,130.9 120.3,130.8 121.0,132.0 121.7,131.8 122.7,129.9 123.3,130.9 124.0,133.9 124.6,134.8 125.5,137.1 126.2,137.9 127.0,140.1 127.9,141.5 128.5,143.0 129.3,143.6 130.2,145.5 130.7,144.7 131.5,145.3 131.9,144.6 132.2,145.6 133.0,145.8 133.4,146.8 133.7,146.3 134.5,146.8 135.2,146.0 136.0,147.1 137.0,147.9 137.5,146.9 138.5,143.7 139.0,143.8 139.7,142.9 140.2,143.3 141.4,144.2 142.0,143.3 142.6,141.5 143.4,135.4 144.3,127.3 144.9,104.7 145.6,81.4 146.4,89.6 147.2,95.9 147.9,103.9 148.3,106.6 148.7,104.3 149.4,99.2 150.4,93.4 150.9,91.7 151.7,91.2 152.4,88.7 153.0,87.9 153.9,92.7 155.0,99.4 155.4,97.1 156.1,95.2 156.9,91.7 157.6,89.8 158.4,86.2 159.1,82.2 159.7,78.2 160.7,58.7 161.4,52.8 162.1,48.0 162.7,43.0 163.6,37.4 164.6,30.3 165.1,33.0 165.9,35.3 166.6,39.8 167.6,43.0 168.1,45.4 168.8,45.9 169.6,49.7 170.3,50.4 171.0,52.8 171.8,58.3 172.5,54.9 173.3,57.5 174.1,62.4 174.8,64.2 175.9,69.3 176.3,68.6 177.1,70.8 177.8,69.9 178.4,70.6 179.3,73.2 180.2,78.2 180.8,79.2 181.5,82.9 182.3,83.1 183.0,87.5 183.8,88.0 184.5,91.6 185.3,89.7 186.0,94.5 186.8,92.8 187.2,95.9 187.5,93.1 188.3,97.7 189.0,94.7 189.8,100.7 190.4,98.1 191.2,101.5 192.0,100.4 192.7,105.1 193.5,101.6 194.2,106.7 195.3,105.0 195.7,110.0 196.5,105.1 197.2,111.9 198.0,108.4 198.7,113.3 199.5,110.6 200.4,115.2 201.0,111.5 201.7,116.3 202.5,114.4 203.2,119.5 203.9,116.1 204.7,120.3 205.3,118.0 206.2,123.2 206.9,118.2 207.7,125.6 208.4,120.8 209.2,127.6 210.2,124.7 210.7,128.4 211.4,122.8 212.2,129.5 212.9,126.2 213.7,131.4 214.4,126.8 215.1,132.1 215.9,129.8 216.9,134.0 217.4,130.7 218.1,137.4 218.9,129.5 219.6,138.2 220.4,131.0 221.1,138.7 221.9,134.5 222.6,140.1 223.5,136.0 224.1,141.9 224.9,136.4 225.6,141.6 226.4,134.9 227.1,142.9 227.8,137.5 228.6,144.0 229.3,138.8 230.1,144.0 230.8,137.5 231.6,146.2 232.3,138.3 233.1,144.6 233.8,139.5 234.6,144.9 235.3,140.6 236.1,148.2 236.9,142.8 237.6,147.1 238.3,138.6 239.0,150.5 239.8,141.3 240.5,150.2 241.3,141.2 242.0,149.8 242.8,140.9 243.5,147.9 244.3,141.6 245.0,149.3 245.8,142.6 246.5,153.9 247.3,146.3 248.0,155.8 248.8,148.1 249.3,155.3 250.3,151.5 251.0,155.5 251.7,142.5 252.5,151.1 253.3,141.0 254.0,143.4 254.7,132.3 255.5,140.8 256.2,134.3 256.8,138.4 257.7,130.9 258.5,139.3 259.2,129.4 260.0,137.2 260.7,128.6 261.5,135.2 261.9,128.5 262.2,136.6 263.0,126.0 263.7,137.7 264.4,128.4 265.2,137.8 265.9,125.6 266.7,135.9 267.4,126.9 268.2,134.1 268.9,126.0 269.7,134.4 270.4,127.0 271.2,134.2 271.7,130.4" stroke="#ff6a0d" stroke-width="1.55" stroke-dasharray="4.5 1.8 1.6 1.8"/>
</g>
<rect x="66.7" y="180.2" width="196.4" height="42.4" fill="#fff" stroke="#333" stroke-width="1"/>
<path d="M101.0,227.3v-3.5M101.0,15.5v3.5" stroke="#333" stroke-width="1"/>
<path d="M143.7,227.3v-3.5M143.7,15.5v3.5" stroke="#333" stroke-width="1"/>
<path d="M186.3,227.3v-3.5M186.3,15.5v3.5" stroke="#333" stroke-width="1"/>
<path d="M229.0,227.3v-3.5M229.0,15.5v3.5" stroke="#333" stroke-width="1"/>
<path d="M58.3,184.9h3.5M271.7,184.9h-3.5" stroke="#333" stroke-width="1"/>
<path d="M58.3,142.6h3.5M271.7,142.6h-3.5" stroke="#333" stroke-width="1"/>
<path d="M58.3,100.2h3.5M271.7,100.2h-3.5" stroke="#333" stroke-width="1"/>
<path d="M58.3,57.9h3.5M271.7,57.9h-3.5" stroke="#333" stroke-width="1"/>
<rect x="58.3" y="15.5" width="213.39999999999998" height="211.8" fill="none" stroke="#333" stroke-width="1.1"/>
<path d="M70.6,188.7H91.7" stroke="#ff0000" stroke-width="1.5"/>
<path d="M75.1,197.5H78.4M79.9,197.5H90.8" stroke="#0000ff" stroke-width="1.4"/>
<path d="M75.1,206.3H81.2M85,206.3H91.2" stroke="#0a6b0a" stroke-width="1.4"/>
<path d="M70.1,215H92.3" stroke="#111" stroke-width="1.3" stroke-dasharray="3.3 1.1"/>
<text x="94" y="191.6" font-size="8.6" fill="#ff0000" font-family="Liberation Sans, Arial, Helvetica, sans-serif" textLength="18.7" lengthAdjust="spacingAndGlyphs">Work</text>
<text x="94" y="200.4" font-size="8.6" fill="#0000ff" font-family="Liberation Sans, Arial, Helvetica, sans-serif" textLength="61.6" lengthAdjust="spacingAndGlyphs">Conv. &amp; Rad. HT</text>
<text x="94" y="209.20000000000002" font-size="8.6" fill="#0a6b0a" font-family="Liberation Sans, Arial, Helvetica, sans-serif" textLength="28.4" lengthAdjust="spacingAndGlyphs">Fuel HT</text>
<text x="94" y="217.9" font-size="8.6" fill="#111" font-family="Liberation Sans, Arial, Helvetica, sans-serif" textLength="25.6" lengthAdjust="spacingAndGlyphs">Flow In</text>
<path d="M165.3,188.7H187" stroke="#ff1493" stroke-width="1.6" stroke-dasharray="1.7 2.2"/>
<path d="M165.7,197.5h1.4M174.2,197.5H186" stroke="#404040" stroke-width="1.2"/>
<path d="M166.1,206.3H170M171,206.3H172.6M173.5,206.3H177.7M179.4,206.3H183.8" stroke="#ff6a0d" stroke-width="1.3"/>
<text x="189" y="191.6" font-size="8.6" fill="#ff1493" font-family="Liberation Sans, Arial, Helvetica, sans-serif" textLength="69.6" lengthAdjust="spacingAndGlyphs">Exergy Destruction</text>
<text x="189" y="200.4" font-size="8.6" fill="#505050" font-family="Liberation Sans, Arial, Helvetica, sans-serif" textLength="39" lengthAdjust="spacingAndGlyphs">CV Exergy</text>
<text x="189" y="209.20000000000002" font-size="8.6" fill="#ff6a0d" font-family="Liberation Sans, Arial, Helvetica, sans-serif" textLength="39" lengthAdjust="spacingAndGlyphs">Exergy HR</text>
<text transform="translate(58.3,239.9) rotate(0.03) scale(1.075,1)" text-anchor="middle" font-size="9.7" fill="#000" stroke="#000" stroke-width="0.08" font-family="Liberation Sans, Arial, Helvetica, sans-serif">−40</text>
<text transform="translate(101.0,239.9) rotate(0.03) scale(1.075,1)" text-anchor="middle" font-size="9.7" fill="#000" stroke="#000" stroke-width="0.08" font-family="Liberation Sans, Arial, Helvetica, sans-serif">−20</text>
<text transform="translate(143.7,239.9) rotate(0.03) scale(1.075,1)" text-anchor="middle" font-size="9.7" fill="#000" stroke="#000" stroke-width="0.08" font-family="Liberation Sans, Arial, Helvetica, sans-serif">0</text>
<text transform="translate(186.3,239.9) rotate(0.03) scale(1.075,1)" text-anchor="middle" font-size="9.7" fill="#000" stroke="#000" stroke-width="0.08" font-family="Liberation Sans, Arial, Helvetica, sans-serif">20</text>
<text transform="translate(229.0,239.9) rotate(0.03) scale(1.075,1)" text-anchor="middle" font-size="9.7" fill="#000" stroke="#000" stroke-width="0.08" font-family="Liberation Sans, Arial, Helvetica, sans-serif">40</text>
<text transform="translate(271.7,239.9) rotate(0.03) scale(1.075,1)" text-anchor="middle" font-size="9.7" fill="#000" stroke="#000" stroke-width="0.08" font-family="Liberation Sans, Arial, Helvetica, sans-serif">60</text>
<text transform="translate(52.3,230.0) rotate(0.03) scale(1.075,1)" text-anchor="end" font-size="9.7" fill="#000" stroke="#000" stroke-width="0.08" font-family="Liberation Sans, Arial, Helvetica, sans-serif">−20</text>
<text transform="translate(52.3,187.6) rotate(0.03) scale(1.075,1)" text-anchor="end" font-size="9.7" fill="#000" stroke="#000" stroke-width="0.08" font-family="Liberation Sans, Arial, Helvetica, sans-serif">−10</text>
<text transform="translate(52.3,145.3) rotate(0.03) scale(1.075,1)" text-anchor="end" font-size="9.7" fill="#000" stroke="#000" stroke-width="0.08" font-family="Liberation Sans, Arial, Helvetica, sans-serif">0</text>
<text transform="translate(52.3,102.9) rotate(0.03) scale(1.075,1)" text-anchor="end" font-size="9.7" fill="#000" stroke="#000" stroke-width="0.08" font-family="Liberation Sans, Arial, Helvetica, sans-serif">10</text>
<text transform="translate(52.3,60.6) rotate(0.03) scale(1.075,1)" text-anchor="end" font-size="9.7" fill="#000" stroke="#000" stroke-width="0.08" font-family="Liberation Sans, Arial, Helvetica, sans-serif">20</text>
<text transform="translate(52.3,18.2) rotate(0.03) scale(1.075,1)" text-anchor="end" font-size="9.7" fill="#000" stroke="#000" stroke-width="0.08" font-family="Liberation Sans, Arial, Helvetica, sans-serif">30</text>
<text transform="translate(165.8,262.3) rotate(0.03) scale(1.095,1)" text-anchor="middle" font-size="9.7" fill="#000" stroke="#000" stroke-width="0.08" font-family="Liberation Sans, Arial, Helvetica, sans-serif">Crank Angle [deg]</text>
<text transform="translate(17.6,120.3) rotate(-90.03) scale(1.093,1)" text-anchor="middle" font-size="9.7" fill="#000" stroke="#000" stroke-width="0.08" font-family="Liberation Sans, Arial, Helvetica, sans-serif">Exergy [J/deg]</text>
<text x="7.4" y="242.6" font-size="9.8" font-weight="bold" fill="#000" font-family="Liberation Sans, Arial, Helvetica, sans-serif" textLength="12.4" lengthAdjust="spacingAndGlyphs">(a)</text>
</g>
<g id="right">
<line x1="368.28" y1="15.5" x2="368.28" y2="227.3" stroke="#111" stroke-width="1" stroke-dasharray="1.15 1.2"/>
<line x1="410.26" y1="15.5" x2="410.26" y2="227.3" stroke="#111" stroke-width="1" stroke-dasharray="1.15 1.2"/>
<line x1="452.24" y1="15.5" x2="452.24" y2="227.3" stroke="#111" stroke-width="1" stroke-dasharray="1.15 1.2"/>
<line x1="494.22" y1="15.5" x2="494.22" y2="227.3" stroke="#111" stroke-width="1" stroke-dasharray="1.15 1.2"/>
<line x1="326.4" y1="200.83" x2="536.3" y2="200.83" stroke="#111" stroke-width="1" stroke-dasharray="1.15 1.2"/>
<line x1="326.4" y1="174.35" x2="536.3" y2="174.35" stroke="#111" stroke-width="1" stroke-dasharray="1.15 1.2"/>
<line x1="326.4" y1="147.88" x2="536.3" y2="147.88" stroke="#111" stroke-width="1" stroke-dasharray="1.15 1.2"/>
<line x1="326.4" y1="121.40" x2="536.3" y2="121.40" stroke="#111" stroke-width="1" stroke-dasharray="1.15 1.2"/>
<line x1="326.4" y1="94.93" x2="536.3" y2="94.93" stroke="#111" stroke-width="1" stroke-dasharray="1.15 1.2"/>
<line x1="326.4" y1="68.45" x2="536.3" y2="68.45" stroke="#111" stroke-width="1" stroke-dasharray="1.15 1.2"/>
<line x1="326.4" y1="41.98" x2="536.3" y2="41.98" stroke="#111" stroke-width="1" stroke-dasharray="1.15 1.2"/>
<g clip-path="url(#cr)" fill="none" stroke-linejoin="round">
<path d="M326.4,165.0 328.1,167.5 328.9,171.9 330.2,177.5 331.6,168.8 332.5,174.7 333.5,176.2 334.6,171.0 335.6,174.0 336.8,168.0 337.7,167.5 339.0,165.1 339.8,164.8 341.9,159.0 342.8,156.0 343.4,153.2 344.2,150.0 345.3,149.4 346.1,149.7 347.8,150.0 349.5,157.9 350.1,164.8 351.6,168.8 353.1,171.7 353.9,174.7 355.4,167.5 356.8,172.5 358.3,176.2 359.4,177.5 360.4,171.8 361.2,168.0 362.7,174.7 363.8,177.5 365.7,171.7 367.1,173.8 367.8,177.0 369.2,173.9 370.1,171.3 371.5,166.4 373.0,165.6 373.8,165.8 375.5,160.1 376.1,158.5 376.8,156.2 378.2,152.1 379.3,143.8 379.9,139.7 380.6,136.5 382.2,130.7 383.1,133.9 384.3,139.7 386.0,152.4 387.1,159.7 388.1,160.0 388.7,160.8 389.8,158.5 390.6,161.7 391.6,164.7 393.1,168.5 394.8,173.0 395.7,175.4 397.1,178.0 398.2,177.5 398.8,176.8 399.4,178.5 400.3,179.6 402.1,178.6 403.2,179.5 403.9,181.0 404.5,178.3 405.3,175.7 407.0,175.3 408.2,176.4 409.3,173.0 410.2,165.3 411.0,155.3 412.2,97.8 413.3,109.9 414.9,129.3 415.8,121.6 417.0,112.9 418.3,108.7 419.6,106.0 420.9,114.7 421.5,120.3 422.1,116.5 423.4,111.9 424.8,103.9 426.1,93.9 427.2,69.5 428.4,57.6 429.0,49.9 429.7,45.2 430.9,34.0 432.2,41.7 433.9,49.9 434.7,54.4 436.0,56.2 437.2,62.1 438.1,69.0 438.7,64.7 439.7,69.3 441.0,78.8 442.1,82.7 443.5,85.1 444.6,84.3 446.3,93.9 447.3,95.8 448.6,103.0 449.8,106.6 451.1,111.3 452.3,111.3 453.2,114.5 454.9,115.2 456.3,120.3 457.4,118.7 458.6,125.9 459.9,124.1 461.2,129.9 462.4,128.7 463.7,135.3 464.9,132.1 466.2,139.0 467.5,135.7 468.7,146.1 470.0,141.5 471.0,147.0 472.5,143.1 473.7,155.0 475.0,148.7 475.8,154.6 477.5,150.0 478.8,162.5 480.0,155.5 481.3,164.4 482.4,159.0 483.8,168.9 485.1,161.0 486.3,170.9 487.6,160.8 488.9,170.5 490.1,165.7 491.4,173.4 492.6,167.4 493.9,176.1 495.2,170.0 496.4,176.9 497.7,169.4 498.9,178.2 500.2,171.2 501.5,179.1 502.1,173.0 502.7,183.3 504.0,172.1 505.2,182.9 506.5,174.7 507.8,187.7 508.6,177.5 510.3,192.7 511.5,180.1 512.8,190.2 514.3,183.9 515.3,192.4 516.6,170.9 518.2,173.8 519.1,158.6 520.3,172.2 521.6,157.0 522.9,164.5 524.1,153.3 525.4,163.5 526.6,153.9 527.9,166.5 529.2,152.3 530.4,165.5 531.7,152.4 532.9,164.1 534.2,150.5 535.5,163.4 536.3,154.0" stroke="#ff0000" stroke-width="1.9"/>
<path d="M332.9,170.8 334.2,170.5 335.9,170.0 338.0,169.4 340.3,168.8 342.7,168.2 345.0,167.5 347.3,166.8 349.8,166.1 352.3,165.3 354.9,164.5 357.5,163.8 360.0,163.0 362.5,162.2 365.1,161.5 367.7,160.7 370.2,159.9 372.7,159.2 375.0,158.5 377.3,157.8 379.6,157.1 381.8,156.4 383.8,155.8 385.6,155.3 387.0,154.8 388.0,154.5 388.6,154.4 388.9,154.3 389.1,154.2 389.2,154.1 389.5,153.8 389.9,153.3 390.2,152.8 390.5,152.2 390.8,151.5 391.2,150.8 391.5,150.0 391.9,149.2 392.2,148.3 392.6,147.4 393.0,146.5 393.3,145.6 393.7,144.7 394.1,143.9 394.4,143.0 394.8,142.2 395.2,141.4 395.6,140.7 396.0,140.0 396.4,139.4 396.8,138.9 397.1,138.5 397.5,138.1 398.0,137.8 398.6,137.4 399.3,137.0 400.1,136.7 401.1,136.3 402.0,136.0 402.8,135.8 403.6,135.7 404.3,135.7 404.9,135.8 405.5,135.9 406.0,136.1 406.5,136.3 407.0,136.5 407.4,136.7 407.8,137.0 408.1,137.3 408.4,137.6 408.7,137.9 409.0,138.0 409.3,138.1 409.5,138.1 409.7,138.2 410.0,138.1 410.2,137.9 410.4,137.5 410.6,137.0 410.8,136.4 411.0,135.6 411.2,134.8 411.4,133.8 411.7,132.6 412.0,131.3 412.4,130.0 412.9,128.5 413.3,126.9 413.8,125.0 414.2,122.8 414.6,120.2 415.0,117.2 415.4,114.0 415.9,110.7 416.2,107.6 416.6,104.8 416.9,102.5 417.2,100.4 417.5,98.6 417.7,96.7 418.0,94.5 418.3,92.0 418.6,88.9 419.0,85.4 419.3,81.6 419.6,77.9 420.0,74.4 420.3,71.3 420.6,68.7 420.9,66.3 421.2,64.1 421.4,62.2 421.7,60.5 422.0,59.0 422.3,57.8 422.6,56.8 422.9,56.0 423.1,55.4 423.4,55.1 423.7,55.0 424.0,55.2 424.2,55.6 424.5,56.3 424.7,57.1 425.0,58.0 425.2,59.0 425.4,59.9 425.6,60.9 425.7,61.9 425.9,63.1 426.1,64.6 426.3,66.4 426.6,68.6 426.8,71.3 427.1,74.2 427.4,77.2 427.7,80.1 428.0,82.7 428.2,85.0 428.5,87.1 428.7,89.1 428.9,91.1 429.1,93.0 429.3,95.0 429.5,97.0 429.7,99.0 429.9,100.9 430.1,102.8 430.3,104.7 430.6,106.5 430.9,108.3 431.3,110.1 431.7,111.8 432.2,113.5 432.6,115.0 433.0,116.3 433.4,117.4 433.7,118.4 434.1,119.2 434.5,119.9 434.9,120.5 435.5,121.2 436.2,121.9 436.9,122.5 437.7,123.1 438.6,123.6 439.5,124.1 440.4,124.5 441.4,124.8 442.5,125.1 443.6,125.3 444.7,125.4 445.9,125.6 447.0,125.8 448.1,126.0 449.2,126.2 450.3,126.4 451.3,126.6 452.4,126.8 453.5,127.0 454.5,127.1 455.4,127.3 456.2,127.4 457.2,127.5 458.5,127.6 460.0,127.7 461.9,127.8 464.1,128.0 466.4,128.1 469.0,128.3 471.7,128.5 474.5,128.8 477.6,129.2 480.9,129.7 484.4,130.3 487.9,130.9 491.1,131.5 494.0,132.0 496.4,132.5 498.6,132.9 500.6,133.3 502.3,133.7 504.0,134.1 505.6,134.5 507.1,134.9 508.6,135.3 509.9,135.7 511.1,136.1 512.1,136.5 513.0,136.8 513.7,137.0 514.2,137.0 514.6,137.0 514.9,137.1 515.2,137.3 515.5,137.8 515.8,138.6 516.1,139.5 516.3,140.7 516.5,141.9 516.8,143.2 517.0,144.4 517.3,145.6 517.6,147.0 517.8,148.3 518.1,149.6 518.4,150.9 518.7,152.0 519.0,153.0 519.2,153.8 519.5,154.6 519.7,155.4 520.0,156.1 520.4,157.0 520.8,157.9 521.3,158.9 521.8,160.0 522.3,161.0 522.9,162.0 523.6,163.0 524.3,164.0 525.2,165.0 526.1,166.1 526.9,167.0 527.8,167.9 528.6,168.7 529.4,169.3 530.2,169.9 530.9,170.3 531.6,170.7 532.2,171.0 532.6,171.2" stroke="#0000ff" stroke-width="1.45" stroke-dasharray="11.8 3.3 3.3 1.7"/>
<path d="M326.4,165.0 328.1,167.7 328.9,171.7 330.2,177.9 331.6,169.1 332.5,174.9 333.5,176.3 334.6,171.3 335.6,173.5 336.8,167.6 337.7,167.9 339.0,165.3 339.8,165.1 341.9,159.0 342.8,156.3 343.4,153.2 344.2,149.5 345.3,149.5 346.1,149.6 347.8,149.9 349.5,157.7 350.1,165.3 351.6,168.5 353.1,171.2 353.9,174.6 355.4,167.7 356.8,172.3 358.3,176.0 359.4,177.4 360.4,172.2 361.2,167.5 362.7,174.2 363.8,177.6 365.7,171.6 367.1,174.3 367.8,176.5 369.2,173.6 370.1,171.2 371.5,166.1 373.0,166.0 373.8,166.0 375.5,160.3 376.1,158.4 376.8,156.6 378.2,151.7 379.3,143.8 379.9,139.7 380.6,137.0 382.2,130.5 383.1,133.6 384.3,139.5 386.0,152.6 387.1,159.4 388.1,160.4 388.7,160.5 389.8,158.4 390.6,161.9 391.6,164.6 393.1,168.4 394.8,173.2 395.7,175.0 397.1,178.0 398.2,177.1 398.8,176.5 399.4,178.9 400.3,179.5 402.1,178.8 403.2,179.2 403.9,180.9 404.5,178.3 405.3,175.3 407.0,175.7 408.2,176.3 409.3,173.2 410.2,165.8 411.0,155.0 412.2,97.8 413.3,109.5 414.9,129.2 415.8,121.7 417.0,112.4 418.3,109.1 419.6,106.5 420.9,114.4 421.5,120.5 422.1,116.6 423.4,111.5 424.8,104.1 426.1,93.5 427.2,69.4 428.4,57.8 429.0,50.4 429.7,45.5 430.9,33.5 432.2,41.8 433.9,50.3 434.7,54.6 436.0,55.7 437.2,62.5 438.1,68.7 438.7,65.1 439.7,68.8 441.0,78.7 442.1,83.2 443.5,84.7 444.6,84.5 446.3,93.6 447.3,95.8 448.6,103.4 449.8,107.0 451.1,111.7 452.3,111.7 453.2,115.0 454.9,115.7 456.3,119.9 457.4,119.1 458.6,125.9 459.9,124.5 461.2,130.2 462.4,128.4 463.7,134.9 464.9,132.2 466.2,139.5 467.5,135.2 468.7,146.6 470.0,141.7 471.0,147.0 472.5,142.7 473.7,154.6 475.0,148.6 475.8,154.7 477.5,149.7 478.8,162.2 480.0,155.1 481.3,164.1 482.4,159.5 483.8,169.1 485.1,161.0 486.3,170.9 487.6,160.4 488.9,170.8 490.1,165.5 491.4,173.5 492.6,167.1 493.9,176.4 495.2,170.0 496.4,177.3 497.7,169.7 498.9,177.8 500.2,171.4 501.5,178.7 502.1,173.0 502.7,183.8 504.0,171.8 505.2,183.4 506.5,174.3 507.8,188.2 508.6,177.3 510.3,193.0 511.5,180.2 512.8,189.8 514.3,183.9 515.3,192.2 516.6,170.6 518.2,174.2 519.1,158.2 520.3,171.8 521.6,157.4 522.9,164.5 524.1,153.5 525.4,163.2 526.6,154.4 527.9,166.5 529.2,152.0 530.4,165.3 531.7,152.8 532.9,163.7 534.2,150.7 535.5,163.1 536.3,154.0" stroke="#0a6b0a" stroke-width="1.8" stroke-dasharray="6.5 2.2"/>
</g>
<rect x="332.4" y="19.8" width="72.3" height="33.8" fill="#fff" stroke="#333" stroke-width="1"/>
<path d="M368.4,227.3v-3.5M368.4,15.5v3.5" stroke="#333" stroke-width="1"/>
<path d="M410.4,227.3v-3.5M410.4,15.5v3.5" stroke="#333" stroke-width="1"/>
<path d="M452.3,227.3v-3.5M452.3,15.5v3.5" stroke="#333" stroke-width="1"/>
<path d="M494.3,227.3v-3.5M494.3,15.5v3.5" stroke="#333" stroke-width="1"/>
<path d="M326.4,200.8h3.5M536.3,200.8h-3.5" stroke="#333" stroke-width="1"/>
<path d="M326.4,174.4h3.5M536.3,174.4h-3.5" stroke="#333" stroke-width="1"/>
<path d="M326.4,147.9h3.5M536.3,147.9h-3.5" stroke="#333" stroke-width="1"/>
<path d="M326.4,121.4h3.5M536.3,121.4h-3.5" stroke="#333" stroke-width="1"/>
<path d="M326.4,94.9h3.5M536.3,94.9h-3.5" stroke="#333" stroke-width="1"/>
<path d="M326.4,68.5h3.5M536.3,68.5h-3.5" stroke="#333" stroke-width="1"/>
<path d="M326.4,42.0h3.5M536.3,42.0h-3.5" stroke="#333" stroke-width="1"/>
<rect x="326.4" y="15.5" width="209.89999999999998" height="211.8" fill="none" stroke="#333" stroke-width="1.1"/>
<path d="M337,27.8H357.7" stroke="#ff0000" stroke-width="1.6"/>
<path d="M341.2,36.9H344.9M346,36.9H356.7" stroke="#0000ff" stroke-width="1.4"/>
<path d="M341.2,45.8H347.1M350.8,45.8H356.7" stroke="#0a6b0a" stroke-width="1.4"/>
<path d="M326.4,42.0H332.4" stroke="#333" stroke-width="1"/>
<text x="359.4" y="30.7" font-size="8.6" fill="#ff0000" font-family="Liberation Sans, Arial, Helvetica, sans-serif" textLength="38.4" lengthAdjust="spacingAndGlyphs">Calculated</text>
<text x="359.4" y="39.8" font-size="8.6" fill="#0000ff" font-family="Liberation Sans, Arial, Helvetica, sans-serif" textLength="40.1" lengthAdjust="spacingAndGlyphs">Theoretical</text>
<text x="359.4" y="48.699999999999996" font-size="8.6" fill="#0a6b0a" font-family="Liberation Sans, Arial, Helvetica, sans-serif" textLength="24.6" lengthAdjust="spacingAndGlyphs">Exergy</text>
<text transform="translate(326.4,239.9) rotate(0.03) scale(1.075,1)" text-anchor="middle" font-size="9.7" fill="#000" stroke="#000" stroke-width="0.08" font-family="Liberation Sans, Arial, Helvetica, sans-serif">−40</text>
<text transform="translate(368.4,239.9) rotate(0.03) scale(1.075,1)" text-anchor="middle" font-size="9.7" fill="#000" stroke="#000" stroke-width="0.08" font-family="Liberation Sans, Arial, Helvetica, sans-serif">−20</text>
<text transform="translate(410.4,239.9) rotate(0.03) scale(1.075,1)" text-anchor="middle" font-size="9.7" fill="#000" stroke="#000" stroke-width="0.08" font-family="Liberation Sans, Arial, Helvetica, sans-serif">0</text>
<text transform="translate(452.3,239.9) rotate(0.03) scale(1.075,1)" text-anchor="middle" font-size="9.7" fill="#000" stroke="#000" stroke-width="0.08" font-family="Liberation Sans, Arial, Helvetica, sans-serif">20</text>
<text transform="translate(494.3,239.9) rotate(0.03) scale(1.075,1)" text-anchor="middle" font-size="9.7" fill="#000" stroke="#000" stroke-width="0.08" font-family="Liberation Sans, Arial, Helvetica, sans-serif">40</text>
<text transform="translate(536.3,239.9) rotate(0.03) scale(1.075,1)" text-anchor="middle" font-size="9.7" fill="#000" stroke="#000" stroke-width="0.08" font-family="Liberation Sans, Arial, Helvetica, sans-serif">60</text>
<text transform="translate(320.4,230.0) rotate(0.03) scale(1.075,1)" text-anchor="end" font-size="9.7" fill="#000" stroke="#000" stroke-width="0.08" font-family="Liberation Sans, Arial, Helvetica, sans-serif">−10</text>
<text transform="translate(320.4,203.5) rotate(0.03) scale(1.075,1)" text-anchor="end" font-size="9.7" fill="#000" stroke="#000" stroke-width="0.08" font-family="Liberation Sans, Arial, Helvetica, sans-serif">−5</text>
<text transform="translate(320.4,177.1) rotate(0.03) scale(1.075,1)" text-anchor="end" font-size="9.7" fill="#000" stroke="#000" stroke-width="0.08" font-family="Liberation Sans, Arial, Helvetica, sans-serif">0</text>
<text transform="translate(320.4,150.6) rotate(0.03) scale(1.075,1)" text-anchor="end" font-size="9.7" fill="#000" stroke="#000" stroke-width="0.08" font-family="Liberation Sans, Arial, Helvetica, sans-serif">5</text>
<text transform="translate(320.4,124.1) rotate(0.03) scale(1.075,1)" text-anchor="end" font-size="9.7" fill="#000" stroke="#000" stroke-width="0.08" font-family="Liberation Sans, Arial, Helvetica, sans-serif">10</text>
<text transform="translate(320.4,97.6) rotate(0.03) scale(1.075,1)" text-anchor="end" font-size="9.7" fill="#000" stroke="#000" stroke-width="0.08" font-family="Liberation Sans, Arial, Helvetica, sans-serif">15</text>
<text transform="translate(320.4,71.2) rotate(0.03) scale(1.075,1)" text-anchor="end" font-size="9.7" fill="#000" stroke="#000" stroke-width="0.08" font-family="Liberation Sans, Arial, Helvetica, sans-serif">20</text>
<text transform="translate(320.4,44.7) rotate(0.03) scale(1.075,1)" text-anchor="end" font-size="9.7" fill="#000" stroke="#000" stroke-width="0.08" font-family="Liberation Sans, Arial, Helvetica, sans-serif">25</text>
<text transform="translate(320.4,18.2) rotate(0.03) scale(1.075,1)" text-anchor="end" font-size="9.7" fill="#000" stroke="#000" stroke-width="0.08" font-family="Liberation Sans, Arial, Helvetica, sans-serif">30</text>
<text transform="translate(431.8,262.3) rotate(0.03) scale(1.095,1)" text-anchor="middle" font-size="9.7" fill="#000" stroke="#000" stroke-width="0.08" font-family="Liberation Sans, Arial, Helvetica, sans-serif">Crank Angle [deg]</text>
<text transform="translate(292.8,120.4) rotate(-90.03) scale(1.093,1)" text-anchor="middle" font-size="9.7" fill="#000" stroke="#000" stroke-width="0.08" font-family="Liberation Sans, Arial, Helvetica, sans-serif">Rate of Heat Release [J/deg]</text>
<text x="285.7" y="245.7" font-size="9.8" font-weight="bold" fill="#000" font-family="Liberation Sans, Arial, Helvetica, sans-serif" textLength="12.9" lengthAdjust="spacingAndGlyphs">(b)</text>
</g>
</svg>
</body></html>
